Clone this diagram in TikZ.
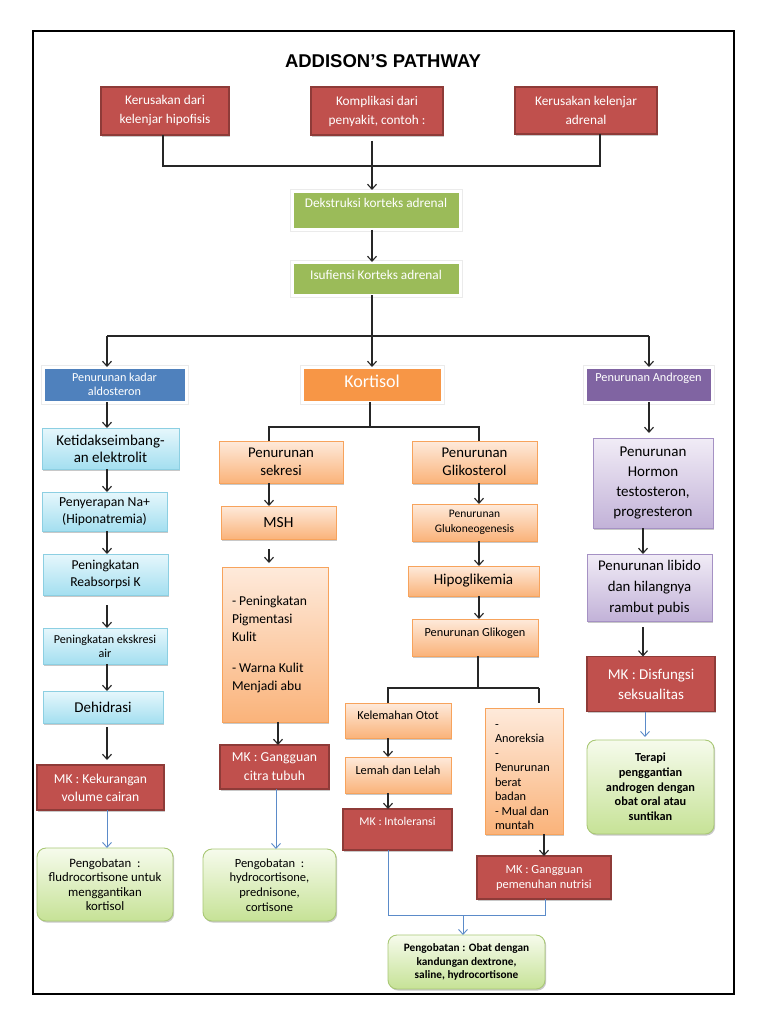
\documentclass[tikz,border=0pt]{standalone}
\usepackage{fontspec}
\setmainfont{Carlito}
\newfontfamily\titlefont{Liberation Sans}
\usetikzlibrary{arrows.meta,shadows}
\newcommand\fsz[2]{\fontsize{#1}{#2}\selectfont}
\definecolor{mkred}{HTML}{C0504D}
\definecolor{mkredd}{HTML}{8E3B38}
\definecolor{grn}{HTML}{9BBB59}
\definecolor{blu}{HTML}{4F81BD}
\definecolor{org}{HTML}{F79646}
\definecolor{pur}{HTML}{8064A2}
\definecolor{lbt}{HTML}{E6F7FC}
\definecolor{lbb}{HTML}{A4DFF0}
\definecolor{lbd}{HTML}{8CCFE2}
\definecolor{lot}{HTML}{FEEADB}
\definecolor{lob}{HTML}{FAB37A}
\definecolor{lod}{HTML}{F7A35C}
\definecolor{lpt}{HTML}{F1ECF6}
\definecolor{lpb}{HTML}{C2B2D8}
\definecolor{lpd}{HTML}{A591C4}
\definecolor{lgt}{HTML}{F6FBEC}
\definecolor{lgb}{HTML}{C6E296}
\definecolor{lgd}{HTML}{A9C875}
\definecolor{bln}{HTML}{5B8BC9}
\begin{document}
\begin{tikzpicture}[x=1pt,y=-1pt,
  base/.style={inner sep=0pt, outer sep=0pt, align=center},
  sz/.style 2 args={minimum width=#1pt, minimum height=#2pt},
  vup/.style={text height=10pt, text depth=#1pt},
  shad/.style={drop shadow={shadow xshift=1.2pt, shadow yshift=-1.6pt, opacity=0.3, fill=black!70}},
  mkbox/.style={base, fill=mkred, draw=mkredd, line width=1.3pt, text=white, shad},
  solidbox/.style={base, fill=#1, draw=white, line width=3pt, text=white,
      drop shadow={shadow xshift=1.4pt, shadow yshift=-2.4pt, opacity=0.2, fill=black!70},
      preaction={draw=black!8, line width=5pt}},
  bluegrad/.style={base, top color=lbt, bottom color=lbb, draw=lbd, line width=0.9pt, shad},
  orangegrad/.style={base, top color=lot, bottom color=lob, draw=lod, line width=0.9pt, shad},
  purplegrad/.style={base, top color=lpt, bottom color=lpb, draw=lpd, line width=0.9pt, shad},
  greengrad/.style={base, top color=lgt, bottom color=lgb, draw=lgd, line width=0.9pt, rounded corners=9pt, shad},
  conn/.style={draw=black!85, line width=1.1pt},
  arrw/.style={conn, -{Straight Barb[length=5pt,width=9pt]}},
  bconn/.style={draw=bln, line width=0.9pt},
  barrw/.style={bconn, -{Straight Barb[length=5pt,width=9pt]}}
]
\useasboundingbox (0,0) rectangle (768,1024);
\fill[white] (0,0) rectangle (768,1024);
\draw[line width=2pt] (33,31) rectangle (734,994);

\node[anchor=base, font={\titlefont\bfseries\fsz{18.5}{20}}] (title) at (383,68) {ADDISON’S PATHWAY};

% top row
\node[mkbox, sz={128}{48}, font={\fsz{13.3}{19}}] (r1) at (165,111) {Kerusakan dari\\kelenjar hipofisis};
\node[mkbox, sz={132}{48}, font={\fsz{13.3}{19}}] (r2) at (377,111) {Komplikasi dari\\penyakit, contoh :};
\node[mkbox, sz={142}{47}, font={\fsz{13.3}{19}}] (r3) at (586,110.5) {Kerusakan kelenjar\\adrenal};

\node[solidbox=grn, sz={168}{38}, font={\fsz{13.3}{16}}, vup=16] (g1) at (376,211) {Dekstruksi korteks adrenal};
\node[solidbox=grn, sz={168}{33}, font={\fsz{13.3}{16}}, vup=9] (g2) at (376,278.5) {Isufiensi Korteks adrenal};

\node[solidbox=blu, sz={143}{35}, font={\fsz{12.2}{14.5}}] (aldo) at (114.5,384.5) {Penurunan kadar\\aldosteron};
\node[solidbox=org, sz={140}{35}, font={\fsz{18}{20}}, vup=4.2] (kort) at (372,384.5) {Kortisol};
\node[solidbox=pur, sz={127}{35}, font={\fsz{12.3}{15}}, vup=15.6] (andr) at (648.5,384.5) {Penurunan Androgen};

% left column
\node[bluegrad, sz={137}{41}, font={\fsz{15}{16.7}}] (keti) at (110.5,448.5) {Ketidakseimbang-\\an elektrolit};
\node[bluegrad, sz={125}{39}, font={\fsz{13.7}{16.7}}] (peny) at (104.5,511.5) {Penyerapan Na+\\(Hiponatremia)};
\node[bluegrad, sz={125}{41}, font={\fsz{13.6}{16.7}}] (rebs) at (105.5,574.5) {Peningkatan\\Reabsorpsi K};
\node[bluegrad, sz={124}{36}, font={\fsz{12.1}{14}}] (eksk) at (105,646) {Peningkatan ekskresi\\air};
\node[bluegrad, sz={120}{32}, font={\fsz{15}{17}}] (dehi) at (103,707) {Dehidrasi};
\node[mkbox, sz={127}{45}, font={\fsz{13.6}{18.3}}] (mk1) at (100.5,787.5) {MK : Kekurangan\\volume cairan};
\node[greengrad, sz={136}{73}, font={\fsz{12.8}{14.3}}] (tx1) at (105,884.5) {Pengobatan~ :\\fludrocortisone untuk\\menggantikan\\kortisol};

% middle-left column
\node[orangegrad, sz={124}{42}, font={\fsz{14.8}{18}}] (sekr) at (281,462) {Penurunan\\sekresi};
\node[orangegrad, sz={115}{33}, font={\fsz{15.5}{17}}] (msh) at (278.5,522.5) {MSH};
\node[orangegrad, sz={106}{155}, font={\fsz{13.6}{18.3}}, text width=86pt, align=flush left] (pigm) at (275,644.5) {- Peningkatan\\Pigmentasi\\Kulit\\[12.4pt]- Warna Kulit\\Menjadi abu\par\vspace*{27pt}};
\node[mkbox, sz={109}{44}, font={\fsz{13.7}{19}}] (mk2) at (274.5,767) {MK : Gangguan\\citra tubuh};
\node[greengrad, sz={133}{72}, font={\fsz{12.5}{14.7}}] (tx2) at (269.5,885) {Pengobatan~ :\\hydrocortisone,\\prednisone,\\cortisone};

% middle-right column
\node[orangegrad, sz={125}{42}, font={\fsz{14.8}{18}}] (glik) at (474.5,462) {Penurunan\\Glikosterol};
\node[orangegrad, sz={125}{37}, font={\fsz{11.5}{15}}] (gluk) at (474.5,522.5) {Penurunan\\Glukoneogenesis};
\node[orangegrad, sz={131}{30}, font={\fsz{15.1}{17}}] (hipo) at (473.5,581) {Hipoglikemia};
\node[orangegrad, sz={126}{37}, font={\fsz{12.3}{15}}, vup=11.6] (glyk) at (475,637.5) {Penurunan Glikogen};
\node[orangegrad, sz={106}{35}, font={\fsz{12.3}{15}}, vup=11.6] (kele) at (398,720.5) {Kelemahan Otot};
\node[orangegrad, sz={106}{36}, font={\fsz{12.4}{15}}, vup=10.6] (lema) at (398,775) {Lemah dan Lelah};
\node[mkbox, sz={109}{41}, font={\fsz{11.9}{15}}, vup=17.9] (mk3) at (397.5,829.5) {MK : Intoleransi};
\node[orangegrad, sz={78}{126}, font={\fsz{12.3}{14.5}}, text width=58pt, align=flush left] (anor) at (524,771) {\rule{0pt}{16pt}-\\Anoreksia\\-\\Penurunan\\berat\\badan\\- Mual dan\\muntah};
\node[mkbox, sz={134}{43}, font={\fsz{12.4}{15}}] (mk4) at (544,877.5) {MK : Gangguan\\pemenuhan nutrisi};
\node[greengrad, sz={157}{54}, font={\bfseries\fsz{11.3}{13.5}}] (tx3) at (466.5,962) {Pengobatan : Obat dengan\\kandungan dextrone,\\saline, hydrocortisone};

% right column
\node[purplegrad, sz={120}{90}, font={\fsz{15}{20.3}}] (horm) at (653,483) {Penurunan\\Hormon\\testosteron,\\progresteron};
\node[purplegrad, sz={125}{67}, font={\fsz{14.8}{20.7}}] (libi) at (649.5,587.5) {Penurunan libido\\dan hilangnya\\rambut pubis};
\node[mkbox, sz={128}{55}, font={\fsz{15}{20}}] (mk5) at (651,684) {MK : Disfungsi\\seksualitas};
\node[greengrad, sz={127}{94}, font={\bfseries\fsz{12.3}{14.7}}] (tx4) at (650.5,787) {Terapi\\penggantian\\androgen dengan\\obat oral atau\\suntikan};

% junction coordinates
\coordinate (jTL) at (163,166);
\coordinate (jTR) at (600,166);
\coordinate (cT) at (372,0);
\coordinate (jM) at (372,336);
\coordinate (jML) at (107,336);
\coordinate (jMR) at (649,336);
\coordinate (cL) at (107,0);
\coordinate (jK) at (370,427);
\coordinate (jKL) at (269,427);
\coordinate (jKR) at (479,427);
\coordinate (cS) at (269,0);
\coordinate (cP) at (278,0);
\coordinate (cB) at (276,0);
\coordinate (cG) at (479,0);
\coordinate (jG) at (478,688);
\coordinate (jGL) at (388,688);
\coordinate (jGR) at (539,688);
\coordinate (cK) at (388,0);
\coordinate (cA) at (544,0);
\coordinate (jB) at (463,915);
\coordinate (jBL) at (388,915);
\coordinate (jBR) at (545,915);
\coordinate (cR1) at (649,0);
\coordinate (cR2) at (643,0);
\coordinate (cR3) at (645,0);

% top connectors
\draw[conn] (r1.south -| jTL) -- (jTL) -- (jTR) -- (r3.south -| jTR);
\draw[arrw, shorten <=6pt, shorten >=2pt] (r2.south -| cT) -- (g1.north -| cT);
\draw[arrw] (g1.south -| cT) -- (g2.north -| cT);
\draw[conn] (g2.south -| jM) -- (jM);
\draw[conn] (jML) -- (jMR);
\draw[arrw] (jML) -- (aldo.north -| jML);
\draw[arrw] (jM) -- (kort.north -| jM);
\draw[arrw] (jMR) -- (andr.north -| jMR);

% left column
\draw[arrw] (aldo.south -| cL) -- (keti.north -| cL);
\draw[arrw] (keti.south -| cL) -- (peny.north -| cL);
\draw[arrw] (peny.south -| cL) -- (rebs.north -| cL);
\draw[arrw, shorten <=10pt] (rebs.south -| cL) -- (eksk.north -| cL);
\draw[arrw] (eksk.south -| cL) -- (dehi.north -| cL);
\draw[arrw, shorten <=4pt, shorten >=5pt] (dehi.south -| cL) -- (mk1.north -| cL);
\draw[barrw] (mk1.south -| cL) -- (tx1.north -| cL);

% kortisol tree
\draw[conn] (kort.south -| jK) -- (jK);
\draw[conn] (sekr.north -| jKL) -- (jKL) -- (jKR) -- (glik.north -| jKR);
\draw[arrw] (sekr.south -| cS) -- (msh.north -| cS);
\draw[arrw, shorten <=10pt, shorten >=4pt] (msh.south -| cS) -- (pigm.north -| cS);
\draw[arrw] (pigm.south -| cP) -- (mk2.north -| cP);
\draw[barrw] (mk2.south -| cB) -- (tx2.north -| cB);

\draw[arrw] (glik.south -| cG) -- (gluk.north -| cG);
\draw[arrw] (gluk.south -| cG) -- (hipo.north -| cG);
\draw[arrw] (hipo.south -| cG) -- (glyk.north -| cG);
\draw[conn] (glyk.south -| jG) -- (jG);
\draw[conn] (kele.north -| jGL) -- (jGL) -- (jGR);
\draw[conn, shorten >=5pt] (jGR) -- (anor.north -| jGR);
\draw[arrw] (kele.south -| cK) -- (lema.north -| cK);
\draw[arrw] (lema.south -| cK) -- (mk3.north -| cK);
\draw[arrw] (anor.south -| cA) -- (mk4.north -| cA);
\draw[bconn] (mk3.south -| jBL) -- (jBL) -- (jBR) -- (mk4.south -| jBR);
\draw[barrw] (jB) -- (tx3.north -| jB);

% right column
\draw[arrw, shorten >=5pt] (andr.south -| cR1) -- (horm.north -| cR1);
\draw[arrw] (horm.south -| cR2) -- (libi.north -| cR2);
\draw[arrw, shorten <=6pt] (libi.south -| cR2) -- (mk5.north -| cR2);
\draw[barrw, shorten >=3pt] (mk5.south -| cR3) -- (tx4.north -| cR3);
\end{tikzpicture}
\end{document}
